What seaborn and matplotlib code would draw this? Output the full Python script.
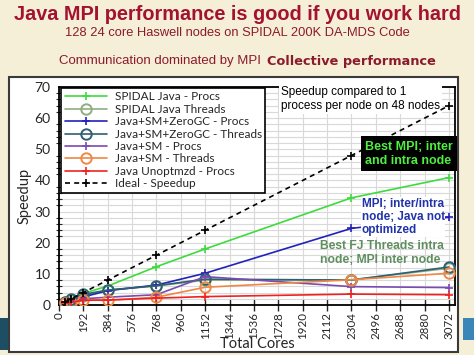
import numpy as np
import matplotlib
matplotlib.use("Agg")
import matplotlib.pyplot as plt
from matplotlib.patches import Rectangle
from matplotlib.ticker import MultipleLocator
import seaborn as sns

# Values (speedup vs total cores)
cores = [48, 96, 192, 384, 768, 1152, 2304, 3072]
spidal_procs = [1, 2, 3.7, 6.1, 12.3, 18, 34.4, 40.9]
spidal_threads = [1, 1.6, 3, 4.8, 6.1, 8, 8.1, 11.8]
zerogc_procs = [1, 1.6, 2.6, 4.6, 6.4, 10.2, 24.6, 28.2]
zerogc_threads = [1, 1.8, 3.4, 4.8, 6.2, 8.3, 8, 12.2]
sm_procs = [1, 1.1, 2, 2.5, 3.3, 9.1, 5.9, 5.6]
sm_threads = [0.6, 0.8, 1.6, 1.5, 2.5, 5.7, 8.1, 10.2]
unopt_procs = [0.6, 0.9, 1.5, 1.6, 2.2, 2.7, 3.5, 3.3]
ideal = [1, 2, 4, 8, 16, 24, 48, 64]
xticks = list(range(0, 3073, 192))

series = [
    ("SPIDAL Java - Procs", spidal_procs, "#3ddc3d", "+", "-"),
    ("SPIDAL Java Threads", spidal_threads, "#8fae80", "o", "-"),
    ("Java+SM+ZeroGC - Procs", zerogc_procs, "#2222bb", "+", "-"),
    ("Java+SM+ZeroGC - Threads", zerogc_threads, "#2e5f73", "o", "-"),
    ("Java+SM - Procs", sm_procs, "#7a4bb0", "+", "-"),
    ("Java+SM - Threads", sm_threads, "#ee8844", "o", "-"),
    ("Java Unoptmzd - Procs", unopt_procs, "#ee2222", "+", "-"),
    ("Ideal - Speedup", ideal, "black", "+", (0, (3, 2.5))),
]

sns.set_theme(style="white")
plt.rcParams["font.family"] = ["Lato", "DejaVu Sans"]

fig = plt.figure(figsize=(4.74, 3.55), dpi=100)
fig.patch.set_facecolor("#f6efd8")

# slide decorations: chart panel and side bars
fig.add_artist(Rectangle((9 / 474, 3 / 355), 449 / 474, 275 / 355, transform=fig.transFigure,
                         facecolor="white", edgecolor="#3a3a3a", lw=1.5, zorder=0))
fig.add_artist(Rectangle((0, 5 / 355), 8 / 474, 32 / 355, transform=fig.transFigure,
                         facecolor="#1d4e64", edgecolor="none", zorder=0))
fig.add_artist(Rectangle((463 / 474, 15 / 355), 11 / 474, 22 / 355, transform=fig.transFigure,
                         facecolor="#3a86b8", edgecolor="none", zorder=0))

red = "#a3122f"
fig.text(0.5, 1 - 15 / 355, "Java MPI performance is good if you work hard", ha="center", va="center",
         fontsize=14.3, fontweight="bold", color=red, family="Liberation Sans")
fig.text(0.5, 1 - 33 / 355, "128 24 core Haswell nodes on SPIDAL 200K DA-MDS Code", ha="center", va="center",
         fontsize=9.3, color="#8b1a2a", family="Liberation Sans")
fig.text(265 / 474, 1 - 61 / 355, "Communication dominated by MPI ", ha="right", va="center",
         fontsize=9.5, color="#8b1a2a", family="Liberation Sans")
fig.text(267 / 474, 1 - 61 / 355, "Collective performance", ha="left", va="center",
         fontsize=9.3, fontweight="bold", color="#8b1a2a", family="DejaVu Sans")

ax = fig.add_axes([59 / 474, 1 - 305 / 355, 396 / 474, 218 / 355])
ax.set_facecolor("white")

for label, vals, col, mk, ls in series:
    kw = dict(markersize=6, markeredgewidth=1.2, markeredgecolor=col, markerfacecolor=col)
    if mk == "o":
        kw.update(markerfacecolor="none", markeredgewidth=1.4, markersize=7.5)
    sns.lineplot(x=cores, y=vals, ax=ax, color=col, marker=mk, linestyle=ls,
                 linewidth=1.2, label=label, zorder=6, **kw)

ax.set_xlim(0, 3120)
ax.set_ylim(0, 70)
ax.set_xticks(xticks)
ax.set_xticklabels([str(t) for t in xticks], rotation=90, fontsize=8.3)
ax.yaxis.set_major_locator(MultipleLocator(10))
ax.yaxis.set_minor_locator(MultipleLocator(2))
ax.tick_params(axis="y", which="major", direction="inout", length=8, width=1, labelsize=10, pad=2)
ax.tick_params(axis="y", which="minor", direction="inout", length=5, width=0.8, left=True)
ax.tick_params(axis="x", which="major", direction="inout", length=8, width=1, pad=1, bottom=True)
ax.grid(axis="x", which="major", color="#d9d9d9", lw=0.8)
ax.grid(axis="y", which="both", color="#d9d9d9", lw=0.8)
ax.set_axisbelow(True)
for s in ax.spines.values():
    s.set_color("black")
    s.set_linewidth(1.3)

ax.set_xlabel("Total Cores", fontsize=10.5, va="center")
ax.xaxis.set_label_coords(0.5, -0.18)
ax.set_ylabel("Speedup", fontsize=10.5, labelpad=2)

leg = ax.legend(loc="upper left", bbox_to_anchor=(0.006, 0.996), borderaxespad=0, fontsize=8.5,
                frameon=True, fancybox=False, framealpha=1, edgecolor="black", handlelength=3.6,
                labelspacing=0.12, borderpad=0.3, handletextpad=0.6)
leg.get_frame().set_linewidth(1.2)
leg.set_zorder(7)

# annotations
ax.text(1750, 70.3, "Speedup compared to 1\nprocess per node on 48 nodes", ha="left", va="top",
        fontsize=8.5, color="black", family="Liberation Sans", linespacing=1.25,
        bbox=dict(facecolor="white", edgecolor="none", pad=1.5), zorder=5)
ax.text(2410, 48.6, "Best MPI; inter\nand intra node", ha="left", va="center", fontsize=9,
        fontweight="bold", color="#4fef3f", family="Liberation Sans", linespacing=1.25,
        bbox=dict(facecolor="black", edgecolor="none", pad=3), zorder=7, clip_on=False)
ax.text(2385, 28.3, "MPI; inter/intra\nnode; Java not\noptimized", ha="left", va="center", fontsize=8.5,
        fontweight="bold", color="#2233aa", family="Liberation Sans", linespacing=1.15, zorder=7,
        bbox=dict(facecolor="white", edgecolor="none", pad=0.3))
ax.text(2060, 16.7, "Best FJ Threads intra\nnode; MPI inter node", ha="left", va="center", fontsize=8.7,
        fontweight="bold", color="#5f8f5f", family="Liberation Sans", linespacing=1.2, zorder=5)

fig.savefig("out.png", dpi=100, facecolor=fig.get_facecolor())
